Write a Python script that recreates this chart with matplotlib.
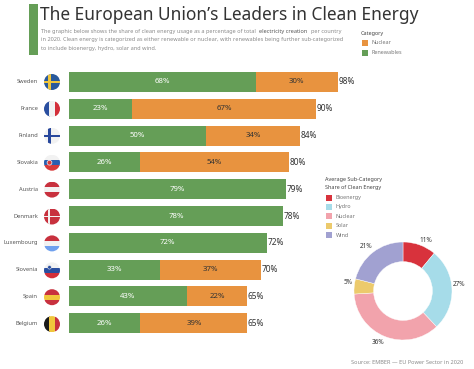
import matplotlib
matplotlib.use('Agg')
import matplotlib.pyplot as plt
from matplotlib.patches import Rectangle, Circle

countries = ['Sweden', 'France', 'Finland', 'Slovakia', 'Austria', 'Denmark',
             'Luxembourg', 'Slovenia', 'Spain', 'Belgium']
renewables = [68, 23, 50, 26, 79, 78, 72, 33, 43, 26]
nuclear = [30, 67, 34, 54, 0, 0, 0, 37, 22, 39]
totals = [98, 90, 84, 80, 79, 78, 72, 70, 65, 65]

sub_names = ['Bioenergy', 'Hydro', 'Nuclear', 'Solar', 'Wind']
sub_values = [11, 27, 36, 5, 21]
sub_colors = ['#d8323c', '#a6dce9', '#f2a3ac', '#ecca6c', '#a1a1d1']

GREEN = '#659e57'
ORANGE = '#e8933f'
W, H = 474, 369
plt.rcParams['font.family'] = ['Noto Sans', 'DejaVu Sans']

fig = plt.figure(figsize=(W / 100, H / 100), dpi=100)

# pixel canvas for the header, legends and flags
bg = fig.add_axes([0, 0, 1, 1])
bg.set_xlim(0, W)
bg.set_ylim(H, 0)
bg.axis('off')

bg.add_patch(Rectangle((29, 4), 9, 51, color=GREEN, lw=0))
bg.text(40, 15, 'The European Union’s Leaders in Clean Energy', fontsize=12.45,
        color='#333333', va='center', ha='left')
sub = '#8a8a8a'
bg.text(41, 32, 'The graphic below shows the share of clean energy usage as a percentage of total',
        fontsize=4, color=sub, va='center')
bg.text(259, 32, 'electricity creation', fontsize=4, color='#555555', va='center', fontweight='bold')
bg.text(311, 32, 'per country', fontsize=4, color=sub, va='center')
bg.text(41, 40, 'in 2020. Clean energy is categorized as either renewable or nuclear, with renewables being further sub-categorized',
        fontsize=4, color=sub, va='center')
bg.text(41, 48.5, 'to include bioenergy, hydro, solar and wind.', fontsize=4, color=sub, va='center')

# category legend
bg.text(361, 34, 'Category', fontsize=3.9, color='#444444', va='center')
bg.add_patch(Rectangle((362, 40), 6, 6, color=ORANGE, lw=0))
bg.text(372, 43, 'Nuclear', fontsize=3.9, color='#777777', va='center')
bg.add_patch(Rectangle((362, 50), 6, 6, color=GREEN, lw=0))
bg.text(372, 53, 'Renewables', fontsize=3.9, color='#777777', va='center')

# sub-category legend
bg.text(325, 179.5, 'Average Sub-Category', fontsize=3.9, color='#444444', va='center')
bg.text(325, 187.5, 'Share of Clean Energy', fontsize=3.9, color='#444444', va='center')
for i, name in enumerate(sub_names):
    y = 197.5 + i * 9.4
    bg.add_patch(Rectangle((326, y - 3), 6, 6, color=sub_colors[i], lw=0))
    bg.text(336, y, name, fontsize=3.9, color='#777777', va='center')

bg.text(463, 362, 'Source: EMBER — EU Power Sector in 2020', fontsize=4.05,
        color='#8c8c8c', va='center', ha='right')

# flags: stripes run across ('h') or down ('v'), the nordic ones get a cross
flags = {
    'Sweden': 'se', 'France': 'v', 'Finland': 'fi', 'Slovakia': 'h', 'Austria': 'h',
    'Denmark': 'dk', 'Luxembourg': 'h', 'Slovenia': 'h', 'Spain': 'h', 'Belgium': 'v',
}
stripes = {
    'France': ['#2a4fa0', '#f2f2f2', '#d32f3a'],
    'Slovakia': ['#f2f2f2', '#2a5fb0', '#d83a3a'],
    'Austria': ['#c8313e', '#f2f2f2', '#c8313e'],
    'Luxembourg': ['#c8313e', '#f2f2f2', '#6fa0ee'],
    'Slovenia': ['#f2f2f2', '#2a4fa0', '#d32f3a'],
    'Spain': ['#c8313e', '#f0c63c', '#c8313e'],
    'Belgium': ['#1a1a1a', '#f0c63c', '#c8313e'],
}
crosses = {
    'Sweden': ('#2a5a9c', '#f0c63c', 2.6),
    'Finland': ('#f2f2f2', '#27479c', 2.4),
    'Denmark': ('#c8313e', '#f2f2f2', 1.8),
}
fx, r = 52, 8
for i, c in enumerate(countries):
    cy = 82 + i * 26.9
    bg.text(38, cy - 0.5, c, fontsize=4.1, color='#555555', va='center', ha='right')
    clip = Circle((fx, cy), r, transform=bg.transData)
    parts = []
    if flags[c] == 'v':
        for k, col in enumerate(stripes[c]):
            parts.append(Rectangle((fx - r + k * 2 * r / 3, cy - r), 2 * r / 3 + 0.3, 2 * r, color=col, lw=0))
    elif flags[c] == 'h':
        for k, col in enumerate(stripes[c]):
            parts.append(Rectangle((fx - r, cy - r + k * 2 * r / 3), 2 * r, 2 * r / 3 + 0.3, color=col, lw=0))
    else:
        base, cross, t = crosses[c]
        parts.append(Rectangle((fx - r, cy - r), 2 * r, 2 * r, color=base, lw=0))
        parts.append(Rectangle((fx - r, cy - t / 2), 2 * r, t, color=cross, lw=0))
        parts.append(Rectangle((fx - 3.5, cy - r), t, 2 * r, color=cross, lw=0))
    for p in parts:
        bg.add_patch(p)
        p.set_clip_path(clip)
    if c == 'Slovakia':
        bg.add_patch(Circle((fx - 2.5, cy), 2.4, color='#d83a3a', lw=0.5, ec='#f2f2f2'))
    if c == 'Slovenia':
        bg.add_patch(Circle((fx - 2.5, cy - 3), 1.8, color='#2a4fa0', lw=0.4, ec='#f2f2f2'))

# stacked bars, 1% = 2.745 px
ax = fig.add_axes([69 / W, 1 - 337.5 / H, 274.5 / W, 269 / H])
ax.set_xlim(0, 100)
ax.set_ylim(len(countries) - 0.5 + 0.03, -0.5)
ax.axis('off')
ypos = list(range(len(countries)))
ax.barh(ypos, renewables, height=0.745, color=GREEN)
ax.barh(ypos, nuclear, left=renewables, height=0.745, color=ORANGE)
for y, a, b, t in zip(ypos, renewables, nuclear, totals):
    ax.text(a / 2, y, f'{a}%', color='white', fontsize=5.6, ha='center', va='center')
    if b:
        ax.text(a + b / 2, y, f'{b}%', color='#333333', fontsize=5.6, ha='center', va='center', fontweight='bold')
    ax.text(t + 0.2, y, f'{t}%', color='#333333', fontsize=6, ha='left', va='center')

# donut
pie = fig.add_axes([(403 - 49) / W, 1 - (291 + 49) / H, 98 / W, 98 / H])
pie.pie(sub_values, colors=sub_colors, startangle=90, counterclock=False, radius=1,
        wedgeprops={'width': 0.4, 'edgecolor': 'white', 'linewidth': 0.3})
pie.set_xlim(-1, 1)
pie.set_ylim(-1, 1)
for (x, y), v in zip([(426, 240), (459, 285), (378, 342), (348, 282), (366, 247)], sub_values):
    bg.text(x, y, f'{v}%', fontsize=4.6, color='#333333', fontweight='bold', va='center', ha='center')

fig.savefig('out.png', dpi=100)
